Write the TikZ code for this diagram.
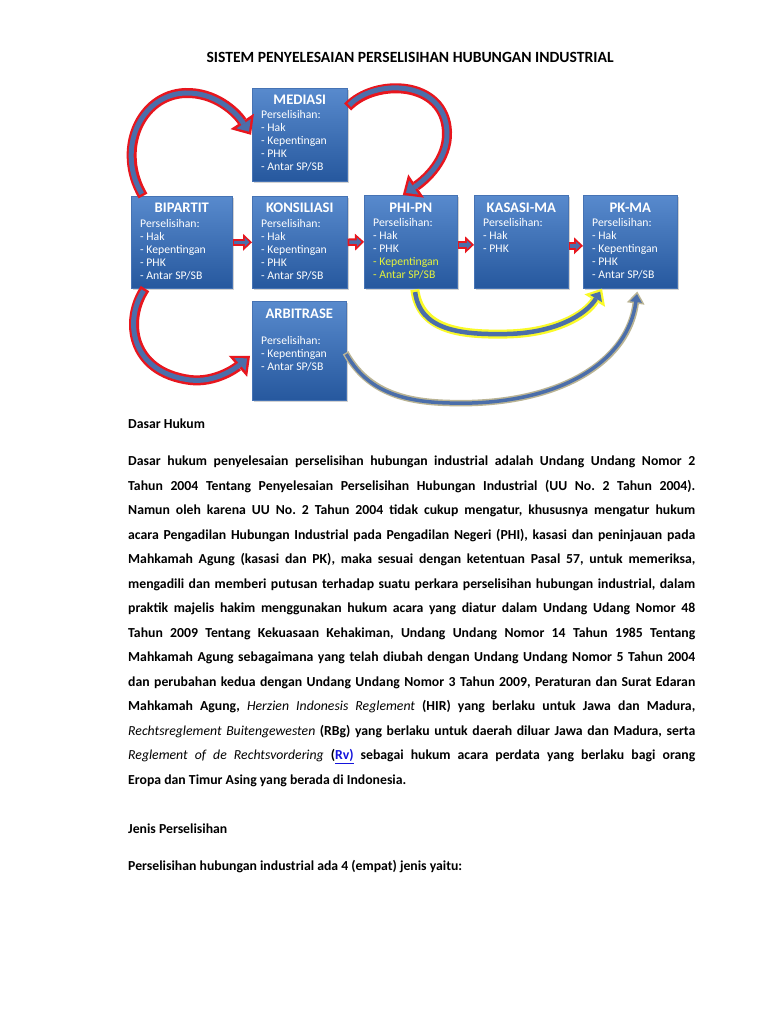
\documentclass[tikz,border=0pt]{standalone}
\usepackage{fontspec}
\setmainfont{Carlito}
\usetikzlibrary{arrows.meta,shadows}

\definecolor{boxtop}{RGB}{88,138,205}
\definecolor{boxbot}{RGB}{38,88,158}
\definecolor{boxedge}{RGB}{70,115,180}
\definecolor{arrowfill}{RGB}{75,110,170}
\definecolor{outred}{RGB}{232,22,30}
\definecolor{outyellow}{RGB}{250,250,40}
\definecolor{outgray}{RGB}{186,180,148}
\definecolor{textyellow}{RGB}{228,242,60}
\definecolor{linkblue}{RGB}{20,20,220}

\begin{document}
\frenchspacing
\begin{tikzpicture}
	[x=1pt,y=-1pt,line cap=butt,
	%Styles
	stagebox/.style={rectangle,anchor=north west,inner sep=0pt,top color=boxtop,bottom color=boxbot,
		draw=boxedge,line width=0.6pt,drop shadow={opacity=0.35,shadow xshift=1.5pt,shadow yshift=-2pt}},
	boxtitle/.style={text=white,font=\fontsize{14.6}{16}\selectfont\bfseries,inner sep=0pt},
	boxtext/.style={text=white,font=\fontsize{11.7}{13}\selectfont,align=left,anchor=north west,inner sep=0pt},
	bodytext/.style={anchor=north west,inner sep=0pt,text width=567pt,align=justify,
		font=\fontsize{13.75}{24.5}\selectfont\bfseries},
	bodyline/.style={anchor=base west,inner sep=0pt,font=\fontsize{13.75}{24.5}\selectfont\bfseries},
	flow/.style={draw=arrowfill,line width=3.5pt,shorten >=2.6pt,shorten <=1.8pt,
		-{Triangle[length=4.5pt,width=9pt,line width=0pt]},
		preaction={draw=outred,line width=7.5pt,shorten >=0pt,shorten <=0pt,
		-{Triangle[length=9pt,width=17pt,line width=0pt]}}},
	redcurve/.style={draw=arrowfill,line width=5pt,shorten >=3.8pt,shorten <=2.5pt,
		-{Triangle[length=9.5pt,width=17pt,line width=0pt]},
		preaction={draw=outred,line width=10pt,shorten >=0pt,shorten <=0pt,
		-{Triangle[length=16pt,width=28pt,line width=0pt]}}},
	yellowcurve/.style={draw=arrowfill,line width=4.5pt,shorten >=3.6pt,shorten <=2.5pt,
		-{Triangle[length=8pt,width=14pt,line width=0pt]},
		preaction={draw=outyellow,line width=9pt,shorten >=0pt,shorten <=0pt,
		-{Triangle[length=14pt,width=24pt,line width=0pt]}}},
	graycurve/.style={draw=arrowfill,line width=3.5pt,shorten >=2.5pt,shorten <=1.5pt,
		-{Triangle[length=8pt,width=12pt,line width=0pt]},
		preaction={draw=outgray,line width=6.5pt,shorten >=0pt,shorten <=0pt,
		-{Triangle[length=12pt,width=18pt,line width=0pt]}}}
	]
	
	\useasboundingbox (0,0) rectangle (768,1024);
	\fill[white] (0,0) rectangle (768,1024);
	
	%Title
	\node[anchor=base,inner sep=0pt,font=\fontsize{15.6}{18}\selectfont\bfseries] (judul) at (410,63)
		{SISTEM PENYELESAIAN PERSELISIHAN HUBUNGAN INDUSTRIAL};
	
	%The boxes
	\node[stagebox,minimum width=95pt,minimum height=93pt] (med) at (252,88) {};
	\node[stagebox,minimum width=101pt,minimum height=92pt] (bip) at (131,196) {};
	\node[stagebox,minimum width=95pt,minimum height=92pt] (kon) at (252,196) {};
	\node[stagebox,minimum width=93pt,minimum height=93pt] (phi) at (364,195) {};
	\node[stagebox,minimum width=94pt,minimum height=93pt] (kas) at (474,195) {};
	\node[stagebox,minimum width=94pt,minimum height=93pt] (pk) at (583,195) {};
	\node[stagebox,minimum width=94pt,minimum height=99pt] (arb) at (252,301) {};
	
	\node[boxtitle] (medT) at ([shift={(0,11.5)}]med.north) {MEDIASI};
	\node[boxtitle] (bipT) at ([shift={(0,12)}]bip.north) {BIPARTIT};
	\node[boxtitle] (konT) at ([shift={(0,12)}]kon.north) {KONSILIASI};
	\node[boxtitle] (phiT) at ([shift={(0,12.5)}]phi.north) {PHI-PN};
	\node[boxtitle] (kasT) at ([shift={(0,12.5)}]kas.north) {KASASI-MA};
	\node[boxtitle] (pkT) at ([shift={(0,12.5)}]pk.north) {PK-MA};
	\node[boxtitle] (arbT) at ([shift={(0,13)}]arb.north) {ARBITRASE};
	
	\node[boxtext] (medL) at ([shift={(9,22)}]med.north west)
		{Perselisihan:\\- Hak\\- Kepentingan\\- PHK\\- Antar SP/SB};
	\node[boxtext] (bipL) at ([shift={(9,23)}]bip.north west)
		{Perselisihan:\\- Hak\\- Kepentingan\\- PHK\\- Antar SP/SB};
	\node[boxtext] (konL) at ([shift={(9,23)}]kon.north west)
		{Perselisihan:\\- Hak\\- Kepentingan\\- PHK\\- Antar SP/SB};
	\node[boxtext] (phiL) at ([shift={(9,23.5)}]phi.north west)
		{Perselisihan:\\- Hak\\- PHK\\{\color{textyellow}- Kepentingan}\\{\color{textyellow}- Antar SP/SB}};
	\node[boxtext] (kasL) at ([shift={(9,23.5)}]kas.north west)
		{Perselisihan:\\- Hak\\- PHK};
	\node[boxtext] (pkL) at ([shift={(9,23.5)}]pk.north west)
		{Perselisihan:\\- Hak\\- Kepentingan\\- PHK\\- Antar SP/SB};
	\node[boxtext] (arbL) at ([shift={(9,35.5)}]arb.north west)
		{Perselisihan:\\- Kepentingan\\- Antar SP/SB};
	
	%Straight arrows
	\draw[flow] (bip.east) -- (kon.west);
	\draw[flow] (kon.east) -- (phi.west);
	\draw[flow] ([yshift=-3pt]phi.east) -- ([yshift=-3pt]kas.west);
	\draw[flow] ([yshift=-4pt]kas.east) -- ([yshift=-4pt]pk.west);
	
	%Curved arrows
	\draw[redcurve] ([xshift=12pt]bip.north west) .. controls (116,150) and (140,95) .. (185,93)
		.. controls (215,92) and (236,112) .. ([xshift=-1pt]med.west);
	\draw[redcurve] ([yshift=-19pt]med.north east) .. controls (375,78) and (445,80) .. (447,132)
		.. controls (448,160) and (425,180) .. ([xshift=-8pt]phi.north);
	\draw[redcurve] ([xshift=14pt]bip.south west) .. controls (124,320) and (130,372) .. (190,380)
		.. controls (215,383) and (236,368) .. ([shift={(-2,5)}]arb.west);
	\draw[yellowcurve] ([shift={(4,1)}]phi.south) .. controls (420,330) and (460,335) .. (507,334)
		.. controls (555,333) and (586,315) .. ([xshift=19pt]pk.south west);
	\draw[graycurve] ([shift={(-1,2)}]arb.east) .. controls (372,400) and (420,404) .. (472,403)
		.. controls (565,400) and (628,360) .. ([shift={(7,3)}]pk.south);
	
	%Text
	\node[bodyline] (dhk) at (128,428.5) {Dasar Hukum};
	\node[bodytext] (dasar) at (128,448.35) {\strut Dasar hukum penyelesaian perselisihan hubungan industrial adalah Undang Undang Nomor 2\linebreak
		Tahun 2004 Tentang Penyelesaian Perselisihan Hubungan Industrial (UU No. 2 Tahun 2004).\linebreak
		Namun oleh karena UU No. 2 Tahun 2004 tidak cukup mengatur, khususnya mengatur hukum\linebreak
		acara Pengadilan Hubungan Industrial pada Pengadilan Negeri (PHI), kasasi dan peninjauan pada\linebreak
		Mahkamah Agung (kasasi dan PK), maka sesuai dengan ketentuan Pasal 57, untuk memeriksa,\linebreak
		mengadili dan memberi putusan terhadap suatu perkara perselisihan hubungan industrial, dalam\linebreak
		praktik majelis hakim menggunakan hukum acara yang diatur dalam Undang Udang Nomor 48\linebreak
		Tahun 2009 Tentang Kekuasaan Kehakiman, Undang Undang Nomor 14 Tahun 1985 Tentang\linebreak
		Mahkamah Agung sebagaimana yang telah diubah dengan Undang Undang Nomor 5 Tahun 2004\linebreak
		dan perubahan kedua dengan Undang Undang Nomor 3 Tahun 2009, Peraturan dan Surat Edaran\linebreak
		Mahkamah Agung, {\mdseries\itshape Herzien Indonesis Reglement} (HIR) yang berlaku untuk Jawa dan Madura,\linebreak
		{\mdseries\itshape Rechtsreglement Buitengewesten} (RBg) yang berlaku untuk daerah diluar Jawa dan Madura, serta\linebreak
		{\mdseries\itshape Reglement of de Rechtsvordering} ({\color{linkblue}\underline{Rv)}} sebagai hukum acara perdata yang berlaku bagi orang\linebreak
		Eropa dan Timur Asing yang berada di Indonesia.};
	\node[bodyline] (jenis) at (128,833.5) {Jenis Perselisihan};
	\node[bodyline] (jenisL) at (128,870.5) {Perselisihan hubungan industrial ada 4 (empat) jenis yaitu:};
\end{tikzpicture}
\end{document}
